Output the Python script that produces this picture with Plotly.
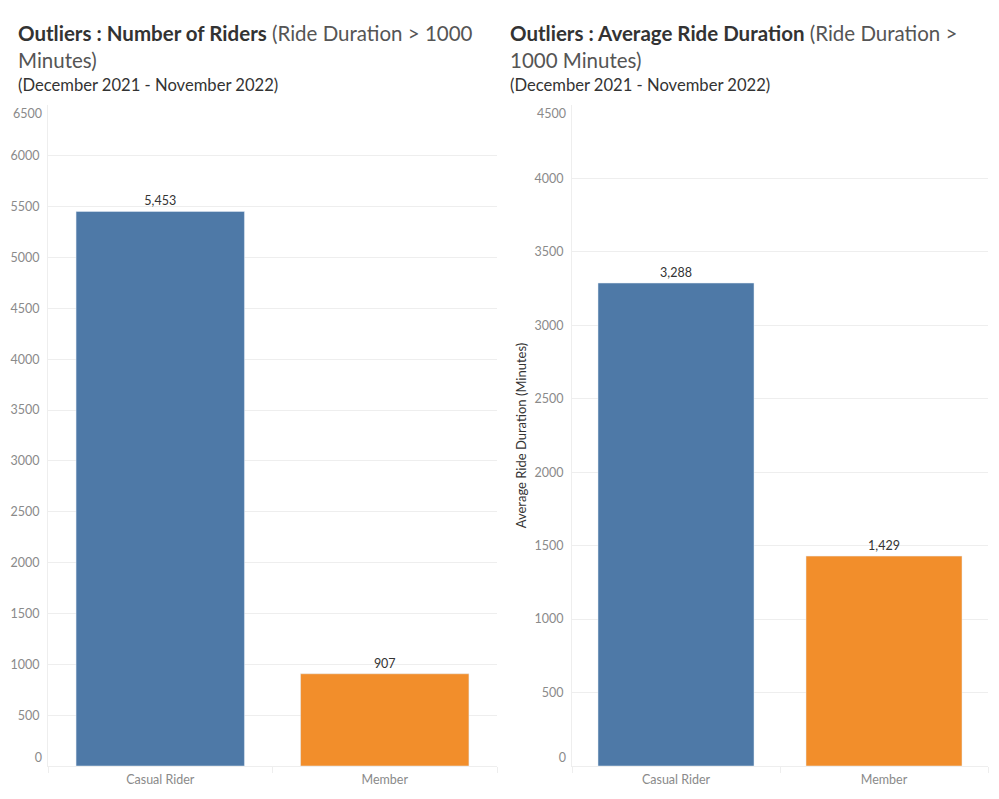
import plotly.graph_objects as go

# data
rider_types = ["Casual Rider", "Member"]
outlier_counts = [5453, 907]
outlier_avg_duration = [3288, 1429]
bar_colors = ["#4e79a7", "#f28e2b"]

count_ticks = [0, 500, 1000, 1500, 2000, 2500, 3000, 3500, 4000, 4500,
               5000, 5500, 6000, 6500]
duration_ticks = [0, 500, 1000, 1500, 2000, 2500, 3000, 3500, 4000, 4500]

FONT = "Lato"
GRID = "#eeeeee"
TICK = "#8a8a8a"

# the page keeps an 8px body margin, so the figure is drawn 16px smaller
W, H = 983, 783
OFF = 8


def px_x(x):
    return (x - OFF) / W


def px_y(y):
    return 1 - (y - OFF) / H


fig = go.Figure()

# Number of riders (left)
fig.add_trace(go.Bar(
    x=rider_types, y=outlier_counts, marker_color=bar_colors, width=0.75,
    texttemplate="%{y:,}", textposition="outside", cliponaxis=False,
    textfont=dict(size=12.5, color="#333333", family=FONT),
    xaxis="x", yaxis="y", showlegend=False,
))

# Average ride duration (right)
fig.add_trace(go.Bar(
    x=rider_types, y=outlier_avg_duration, marker_color=bar_colors, width=0.75,
    texttemplate="%{y:,}", textposition="outside", cliponaxis=False,
    textfont=dict(size=12.5, color="#333333", family=FONT),
    xaxis="x2", yaxis="y2", showlegend=False,
))

# empty traces so the end-label axes get drawn (Tableau tucks the end labels inside)
for xa, ya in [("x", "y3"), ("x", "y4"), ("x2", "y5"), ("x2", "y6")]:
    fig.add_trace(go.Scatter(x=[rider_types[0]], y=[0], mode="none",
                             xaxis=xa, yaxis=ya, showlegend=False, hoverinfo="skip"))

xaxis_common = dict(
    type="category", range=[-0.5, 1.5], showgrid=False, zeroline=False,
    showline=True, linecolor=GRID, linewidth=1, automargin=False,
    ticks="outside", tickson="boundaries", ticklen=6, tickcolor=GRID,
    ticklabelstandoff=2,
    tickfont=dict(size=12.5, color=TICK, family=FONT), fixedrange=True,
)
yaxis_common = dict(
    showgrid=True, gridcolor=GRID, gridwidth=1, zeroline=False,
    showline=True, linecolor=GRID, linewidth=1, ticks="", ticklen=0,
    ticklabelstandoff=5, automargin=False,
    tickfont=dict(size=12.5, color=TICK, family=FONT), tickformat="d",
)
end_common = dict(
    showgrid=False, zeroline=False, showline=False, ticks="",
    ticklabelstandoff=5, automargin=False,
    tickfont=dict(size=12.5, color=TICK, family=FONT), tickformat="d",
)

dom_y = [px_y(766), px_y(105)]
count_range = [count_ticks[0], count_ticks[-1]]
duration_range = [duration_ticks[0], duration_ticks[-1]]

fig.update_layout(
    width=W, height=H,
    margin=dict(l=0, r=0, t=0, b=0),
    paper_bgcolor="white", plot_bgcolor="white",
    font=dict(family=FONT, color="#333333"),
    xaxis=dict(domain=[px_x(48), px_x(497)], anchor="y", **xaxis_common),
    yaxis=dict(domain=dom_y, anchor="x", range=count_range,
               tickvals=count_ticks, ticktext=[""] + [str(v) for v in count_ticks[1:-1]] + [""],
               **yaxis_common),
    yaxis3=dict(overlaying="y", anchor="x", range=count_range,
                tickvals=[count_ticks[0]], ticklabelposition="outside top", **end_common),
    yaxis4=dict(overlaying="y", anchor="x", range=count_range,
                tickvals=[count_ticks[-1]], ticklabelposition="outside bottom", **end_common),
    xaxis2=dict(domain=[px_x(572), px_x(988)], anchor="y2", **xaxis_common),
    yaxis2=dict(
        domain=dom_y, anchor="x2", range=duration_range,
        tickvals=duration_ticks,
        ticktext=[""] + [str(v) for v in duration_ticks[1:-1]] + [""],
        title=dict(text="Average Ride Duration (Minutes)", standoff=4,
                   font=dict(size=13, color="#333333", family=FONT)),
        **yaxis_common,
    ),
    yaxis5=dict(overlaying="y2", anchor="x2", range=duration_range,
                tickvals=[duration_ticks[0]], ticklabelposition="outside top", **end_common),
    yaxis6=dict(overlaying="y2", anchor="x2", range=duration_range,
                tickvals=[duration_ticks[-1]], ticklabelposition="outside bottom", **end_common),
)

# titles, Tableau style: bold lead, light remainder, subtitle
titles = [
    (16, "<b>Outliers : Number of Riders</b>",
     " (Ride Duration > 1000", "Minutes)"),
    (508, "<b>Outliers : Average Ride Duration</b>",
     " (Ride Duration >", "1000 Minutes)"),
]
for x0, lead, rest, line2 in titles:
    fig.add_annotation(
        x=px_x(x0), y=px_y(33), xref="paper", yref="paper",
        xanchor="left", yanchor="middle", showarrow=False,
        text=lead + "<span style='color:#555555'>" + rest + "</span>",
        font=dict(size=20.5, color="#333333", family=FONT),
    )
    fig.add_annotation(
        x=px_x(x0), y=px_y(60), xref="paper", yref="paper",
        xanchor="left", yanchor="middle", showarrow=False,
        text=line2, font=dict(size=20.5, color="#555555", family=FONT),
    )
    fig.add_annotation(
        x=px_x(x0), y=px_y(85), xref="paper", yref="paper",
        xanchor="left", yanchor="middle", showarrow=False,
        text="(December 2021 - November 2022)",
        font=dict(size=16.6, color="#333333", family=FONT),
    )

fig.write_html("out.html")
